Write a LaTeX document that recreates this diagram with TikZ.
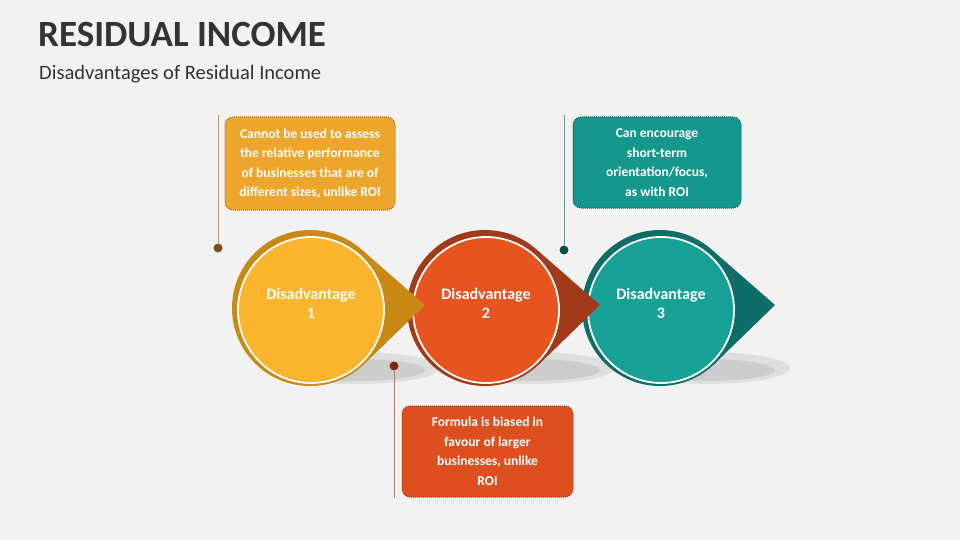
\documentclass[tikz,border=0pt]{standalone}
\usepackage{fontspec}
\setmainfont{Carlito}
\definecolor{bg}{HTML}{F2F2F2}
\definecolor{yin}{HTML}{FBB42D}\definecolor{yout}{HTML}{C88A14}
\definecolor{rin}{HTML}{E8541F}\definecolor{rout}{HTML}{A03A1A}
\definecolor{tin}{HTML}{16A096}\definecolor{tout}{HTML}{0E6D66}
\definecolor{ybox}{HTML}{EDA62B}\definecolor{rbox}{HTML}{DD4F1F}\definecolor{tbox}{HTML}{16978E}
\definecolor{ydot}{HTML}{7A5210}\definecolor{rdot}{HTML}{7A2A12}\definecolor{tdot}{HTML}{0B4E49}
\begin{document}
\begin{tikzpicture}[x=1pt,y=-1pt,
  ctext/.style={text=white,font=\fontsize{16}{19}\selectfont\bfseries,align=center},
  infobox/.style={rounded corners=8pt,densely dotted,line width=1pt,text=white,align=center,
     font=\fontsize{13.5}{19.5}\selectfont\bfseries,inner sep=3pt},
  vline/.style={line width=0.6pt}]
\fill[bg] (0,0) rectangle (960,540);
\useasboundingbox (0,0) rectangle (960,540);
\node[anchor=west,font=\fontsize{37}{40}\selectfont\bfseries,text=black!80,inner sep=0] (title) at (38,35) {RESIDUAL INCOME};
\node[anchor=west,font=\fontsize{20.5}{24}\selectfont,text=black!80,inner sep=0] (sub) at (39,74) {Disadvantages of Residual Income};
% shadows
\foreach \cx in {310,485,660}{
  \fill[black,opacity=0.08] (\cx+45,368) ellipse (85 and 16);
  \fill[black,opacity=0.08] (\cx+45,370) ellipse (70 and 11);
}
% shapes drawn 3,2,1
\foreach \cx/\ci/\co/\n in {660/tin/tout/3,485/rin/rout/2,310/yin/yout/1}{
  \fill[\co] (\cx+115,305) -- ({\cx+78*cos(47)},{308-78*sin(47)}) -- ({\cx+78*cos(47)},{308+78*sin(47)}) -- cycle;
  \fill[\co] (\cx,308) circle (78);
  \fill[\ci,draw=white,line width=1.8pt] (\cx+1,310) circle (73);
  \node[ctext] (d\n) at (\cx+1,303) {Disadvantage\\\n};
}
% boxes
\node[infobox,fill=ybox,draw=yout!80!black,minimum width=170pt,minimum height=93pt] (b1) at (310,163.5)
  {Cannot be used to assess\\the relative performance\\of businesses that are of\\different sizes, unlike ROI};
\node[infobox,fill=tbox,draw=tout!80!black,minimum width=168pt,minimum height=91pt] (b3) at (657,162.5)
  {Can encourage\\short-term\\orientation/focus,\\as with ROI};
\node[infobox,fill=rbox,draw=rout,minimum width=171pt,minimum height=91pt] (b2) at (487.5,451.5)
  {Formula is biased in\\favour of larger\\businesses, unlike\\ROI};
% pins
\coordinate (p1t) at (218,115); \node[circle,fill=ydot,inner sep=0,minimum size=9pt] (p1) at (218,248) {};
\draw[vline,ydot!60] (p1t) -- (p1);
\coordinate (p3t) at (564,115); \node[circle,fill=tdot,inner sep=0,minimum size=9pt] (p3) at (564,250) {};
\draw[vline,tdot!60] (p3t) -- (p3);
\coordinate (p2b) at (394,498); \node[circle,fill=rdot,inner sep=0,minimum size=9pt] (p2) at (394,366) {};
\draw[vline,rdot!60] (p2) -- (p2b);
\end{tikzpicture}
\end{document}
